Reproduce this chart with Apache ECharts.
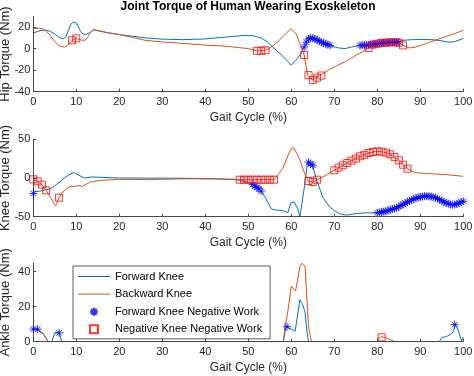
<!DOCTYPE html>
<html><head><meta charset="utf-8">
<script src="https://cdn.jsdelivr.net/npm/echarts@6/dist/echarts.min.js"></script>
<style>html,body{margin:0;padding:0;background:#fff}#c{width:474px;height:376px}</style>
</head><body><div id="c"></div>
<script>
const titleText = 'Joint Torque of Human Wearing Exoskeleton';
const seriesNames = ['Forward Knee', 'Backward Knee', 'Forward Knee Negative Work', 'Negative Knee Negative Work'];
const xName = 'Gait Cycle (%)';
const yNames = ['Hip Torque (Nm)', 'Knee Torque (Nm)', 'Ankle Torque (Nm)'];
const xTicks = [0, 10, 20, 30, 40, 50, 60, 70, 80, 90, 100];
const hipTicks = [-40, -20, 0, 20];
const kneeTicks = [-50, 0, 50];
const ankleTicks = [0, 20, 40];

// ---- Hip ----
const hipForward = [[0,14.5],[1,16],[2,17],[3,17],[4,16],[5,13.5],[6,10.5],[6.8,9],[7.5,10.5],[8.2,17],[8.8,23],[9.3,24.6],[9.9,24],[10.4,21],[11,16],[11.6,13.5],[12.2,13],[13,14.5],[14,17.5],[17,15],[20,13],[23,11.5],[26,10],[30,8.8],[35,8.3],[40,9],[45,10.8],[49,12.2],[51,12],[53,10],[54.5,6],[56.5,-1.5],[58.5,-9],[60,-15.4],[61,-11],[62,-6],[63,1.5],[63.8,8.3],[64.6,10],[65.5,9],[66.5,7],[67.5,5.2],[68.5,3.7],[69.2,2.5],[70,1.5],[71,0.6],[72.5,0],[74,1.5],[76,3],[78,3.5],[80,4.5],[82,5.5],[84,6],[85,6.3],[86,7.7],[88,8.3],[90,8.5],[93,8.3],[95,7.2],[96.5,6],[98,6.5],[100,9.5]];
const hipBackward = [[0,18.5],[1.5,19],[2.5,18],[3,16.3],[4,12],[4.6,8.6],[5.5,4.5],[6.2,2.2],[7.3,1.5],[8,3],[8.5,5.2],[9,7.7],[10,9.5],[10.5,8.5],[11,8],[12,7.7],[12.6,10],[13.1,13.8],[14,17.5],[17,15],[20,13],[23,10.5],[26,7.7],[30,6.2],[35.5,4.6],[40,3.3],[44.8,2.2],[50,0],[52,-2],[53,-2],[54,-1.5],[55,0.5],[56.4,4.6],[58,11],[59.9,18.5],[61.1,13.8],[62.6,-1.5],[63,-6],[63.8,-24.6],[64.8,-29],[65.7,-27],[66.7,-25],[68.6,-20],[70.5,-16],[72.6,-12],[74.5,-7.5],[76.5,-3],[78,0.6],[79,3.7],[80,4.6],[81,5.2],[82,5.5],[83,5.8],[84,5.8],[85,5.5],[86,3],[87.5,0.6],[89,1.5],[90.5,3.5],[92.2,6],[94,8.5],[96,11.4],[98,14],[100,17]];
const hipForwardNeg = [[63,1.5],[63.5,6],[64,9],[64.5,10],[65,9.6],[65.5,9],[66,8],[66.5,7],[67,6],[67.5,5.2],[68,4.4],[68.5,3.7],[69,3],[76,3],[76.5,3],[77,3.2],[77.5,3.3],[78,3.5],[78.5,3.8],[79,4],[79.5,4.3],[80,4.5],[80.5,4.8],[81,5],[81.5,5.3],[82,5.5],[82.5,5.7],[83,5.8],[83.5,6],[84,6],[84.5,6.1],[85,6.2]];
const hipBackwardNeg = [[9,7.7],[10,9.5],[52,-2],[53,-2],[54,-1.5],[63,-6],[64,-24.6],[65,-29],[66,-27],[67,-25],[78,0.6],[79,3.7],[80,4.6],[81,5.2],[82,5.5],[83,5.8],[84,5.8],[85,5.5],[86,3]];

// ---- Knee ----
const kneeForward = [[0,-18],[1.5,-17],[3.9,-14],[5,-10],[6.2,-5],[7.2,0],[8.1,3.5],[9.3,7],[10.4,4.3],[11.3,1.5],[12,0],[13.5,1.3],[16,0.8],[20,0],[28,-0.2],[35.5,-0.4],[42,-1],[47,-2],[48,-3],[49,-4],[50,-6],[51,-8.5],[52,-12],[53,-17],[54.1,-26.7],[55.3,-39.6],[56,-41],[57.2,-41.8],[58.2,-42.5],[59.2,-44.8],[59.9,-32],[60.7,-31],[61.5,-39.7],[62,-50],[63.1,-9.5],[63.8,21.5],[64.9,17],[65.9,-3],[67.3,-24.6],[68.9,-37.5],[70,-42],[71.2,-46],[72.8,-48],[75.1,-46],[77.4,-45],[80,-45],[82.1,-43],[84.4,-38.8],[86.8,-32],[88.7,-26.7],[90.6,-23.7],[92.2,-23.7],[94.2,-26.7],[96.1,-32],[97.6,-34.5],[99.2,-32],[100,-30]];
const kneeBackward = [[0,-1.7],[1,-4.3],[2,-8.6],[3,-16],[4,-25],[4.6,-31],[5.2,-36],[6,-25.4],[6.8,-18],[8.3,-11.6],[10.4,-10],[11.4,-10.8],[12.5,-7.5],[13.3,-5],[15.9,-3],[20,-1.7],[27.3,-2],[35.5,-1],[42,-1.2],[47,-1.7],[48,-2.2],[50,-2.2],[52,-2.2],[54,-2.2],[56,-2.2],[56.4,-1.5],[58,12],[59.2,29],[60.1,39],[60.7,38],[61.9,25],[63.1,5.6],[64,-3.9],[65,-5.2],[66,-2.2],[68.1,3.5],[70,10],[71,13.4],[72,16.4],[73,19.4],[74,22.4],[75,25],[76,28],[77,30],[78,32.3],[79,33.6],[80,34.5],[81,34],[82,32.8],[83,30.6],[84,27],[85,22.8],[86,17.2],[87,12],[88.7,6.9],[92.2,5.6],[96.1,4.3],[100,2.2]];
const kneeForwardNeg = [[0,-20],[51,-8.5],[51.5,-10.5],[52,-12],[52.5,-14],[53,-17],[64,20.5],[64.5,18],[65,16.5],[80,-45],[80.5,-44.5],[81,-44],[81.5,-43.5],[82,-43],[82.5,-42],[83,-41],[83.5,-40],[84,-39.5],[84.5,-38.5],[85,-37],[85.5,-35.5],[86,-34],[86.5,-32.5],[87,-31],[87.5,-29.5],[88,-28.5],[88.5,-27],[89,-26],[89.5,-25],[90,-24.5],[90.5,-24],[91,-23.5],[91.5,-23.5],[92,-23.5],[92.5,-24],[93,-24.5],[93.5,-25.5],[94,-26.5],[94.5,-28],[95,-29.5],[95.5,-31],[96,-32],[96.5,-33],[97,-34],[97.5,-34.5],[98,-34.5],[98.5,-33.5],[99,-32.5],[99.5,-31],[100,-30]];
const kneeBackwardNeg = [[0,-1.7],[1,-4.3],[2,-8.6],[3,-16],[6,-25.4],[48,-2.2],[49,-2.2],[50,-2.2],[51,-2.2],[52,-2.2],[53,-2.2],[54,-2.2],[55,-2.2],[56,-2.2],[64,-3.9],[65,-5.2],[66,-2.2],[70,10],[71,13.4],[72,16.4],[73,19.4],[74,22.4],[75,25],[76,28],[77,30],[78,32.3],[79,33.6],[80,34.5],[81,34],[82,32.8],[83,30.6],[84,27],[85,22.8],[86,17.2],[87,12]];

// ---- Ankle ----
const ankleForward = [[0,7.2],[1,7.2],[2.3,4.8],[3.5,0],[4.3,0],[5,5],[6,5.3],[6.6,0],[58.1,0],[58.8,8.6],[59.7,7.6],[60.9,6],[62,24],[62.5,22],[63.2,17],[63.6,6.7],[64,0],[94.4,0],[95,2.5],[96.1,2.9],[97.2,4.5],[97.7,5.7],[98.1,10],[98.8,6.7],[99.6,0.6],[100,2.5]];
const ankleBackward = [[0,7.2],[1,6.7],[2.3,4.4],[3.5,0],[58.2,0],[58.5,8.6],[59,14],[60,31.8],[61,29],[62,42.9],[62.4,44.8],[63.2,43.2],[64,8.6],[64.7,0],[80,0],[80.2,2],[81,2.9],[82.2,2],[84.1,0],[100,0]];
const ankleForwardNeg = [[0,7.2],[1,7.2],[6,5.1],[59,8.6],[98,9.8]];
const ankleBackwardNeg = [[81,2.5]];

const FONT = 'Liberation Sans, Arial, Helvetica, sans-serif';
const AX = '#4a4a4a';
const TXT = '#262626';
const BLUE = '#0072BD', ORANGE = '#D95319';
const STAR = 'path://M5,0L5,10M0,5L10,5M1.5,1.5L8.5,8.5M1.5,8.5L8.5,1.5';
const SQUARE = 'path://M0,0L10,0L10,10L0,10Z';
const LINEICON = 'path://M0,0L32,0L32,1L0,1Z';

const grids = [
  {left: 33.3, right: 10.7, top: 16.3, height: 75.4},
  {left: 33.3, right: 10.7, top: 139.3, height: 77.4},
  {left: 33.3, right: 10.7, top: 263.0, height: 78.7}
].map(g => Object.assign(g, {containLabel: false, outerBoundsMode: 'none'}));
const yRanges = [[-40, 30, hipTicks], [-50, 50, kneeTicks], [0, 45, ankleTicks]];

const xAxes = grids.map((g, i) => ({
  type: 'value', gridIndex: i, min: 0, max: 100, interval: 10, z: 5,
  name: xName, nameLocation: 'middle', nameGap: 20, nameMoveOverlap: false,
  nameTextStyle: {fontSize: 12, color: TXT, fontFamily: FONT},
  axisLine: {show: true, onZero: false, lineStyle: {color: AX, width: 1}},
  axisTick: {show: true, inside: true, length: 3, lineStyle: {color: AX}, customValues: xTicks},
  axisLabel: {fontSize: 11, color: TXT, fontFamily: FONT, margin: 5, customValues: xTicks},
  splitLine: {show: false}
}));
const yAxes = grids.map((g, i) => ({
  type: 'value', gridIndex: i, min: yRanges[i][0], max: yRanges[i][1],
  name: yNames[i], nameLocation: 'middle', nameGap: 21, nameRotate: 90, nameMoveOverlap: false,
  nameTextStyle: {fontSize: 13, color: TXT, fontFamily: FONT},
  axisLine: {show: true, onZero: false, lineStyle: {color: AX, width: 1}},
  axisTick: {show: true, inside: true, length: 3, lineStyle: {color: AX}, customValues: yRanges[i][2]},
  axisLabel: {fontSize: 11, color: TXT, fontFamily: FONT, margin: 3, customValues: yRanges[i][2]},
  splitLine: {show: false}
}));

const sets = [
  [hipForward, hipBackward, hipForwardNeg, hipBackwardNeg],
  [kneeForward, kneeBackward, kneeForwardNeg, kneeBackwardNeg],
  [ankleForward, ankleBackward, ankleForwardNeg, ankleBackwardNeg]
];
const series = [];
sets.forEach((s, i) => {
  series.push({name: seriesNames[0], type: 'line', xAxisIndex: i, yAxisIndex: i, data: s[0],
    symbol: 'none', showSymbol: false, lineStyle: {color: BLUE, width: 1}, itemStyle: {color: BLUE}, z: 2});
  series.push({name: seriesNames[1], type: 'line', xAxisIndex: i, yAxisIndex: i, data: s[1],
    symbol: 'none', showSymbol: false, lineStyle: {color: ORANGE, width: 1}, itemStyle: {color: ORANGE}, z: 2});
  series.push({name: seriesNames[2], type: 'scatter', xAxisIndex: i, yAxisIndex: i, data: s[2],
    symbol: STAR, symbolSize: 8, itemStyle: {color: 'rgba(0,0,0,0)', borderColor: '#0000FF', borderWidth: 1}, z: 3});
  series.push({name: seriesNames[3], type: 'scatter', xAxisIndex: i, yAxisIndex: i, data: s[3],
    symbol: 'rect', symbolSize: 7, itemStyle: {color: 'rgba(0,0,0,0)', borderColor: '#FF0000', borderWidth: 1}, z: 4});
});

const chart = echarts.init(document.getElementById('c'), null, {renderer: 'canvas'});
chart.setOption({
  animation: false,
  backgroundColor: '#fff',
  graphic: [{type: 'text', x: 248, y: 1, z: 10,
    style: {text: titleText, font: 'bold 12px ' + FONT, fill: '#000', textAlign: 'center', textVerticalAlign: 'top'}}],
  grid: grids,
  xAxis: xAxes,
  yAxis: yAxes,
  legend: {
    data: [
      {name: seriesNames[0], icon: LINEICON, itemStyle: {color: BLUE, borderWidth: 0}},
      {name: seriesNames[1], icon: LINEICON, itemStyle: {color: ORANGE, borderWidth: 0}},
      {name: seriesNames[2], icon: STAR},
      {name: seriesNames[3], icon: SQUARE}
    ],
    orient: 'vertical', left: 73, top: 266,
    itemWidth: 32, itemHeight: 8, itemGap: 6.6, padding: [5, 8, 4, 5],
    backgroundColor: '#fff', borderColor: '#333', borderWidth: 0.8,
    textStyle: {fontSize: 11, color: '#000', fontFamily: FONT}, selectedMode: false, z: 20
  },
  series: series
});
</script></body></html>
